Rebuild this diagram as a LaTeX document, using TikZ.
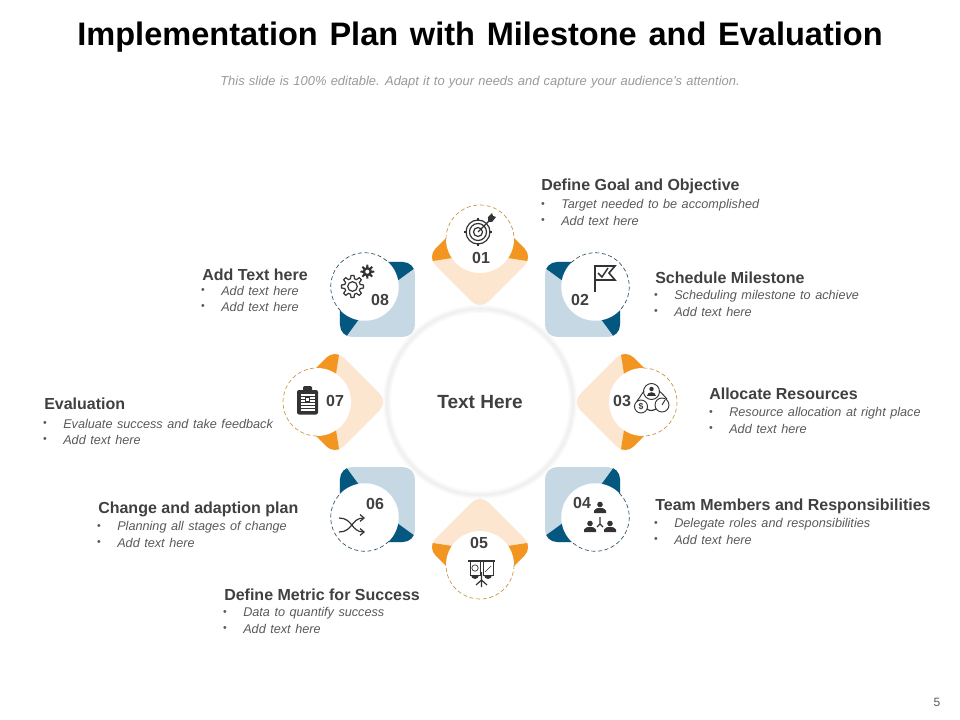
\documentclass[tikz,border=0pt]{standalone}
\usepackage{fontspec}
\setmainfont{Liberation Sans}
\usepackage{xcolor}
\usetikzlibrary{arrows.meta}
\definecolor{warmtone}{HTML}{F39621}
\definecolor{warmtint}{HTML}{FCE6CF}
\definecolor{warmedge}{HTML}{C9923F}
\definecolor{coldtone}{HTML}{04587F}
\definecolor{coldtint}{HTML}{C6D8E4}
\definecolor{coldedge}{HTML}{2A4F66}
\definecolor{iconink}{HTML}{333333}
\definecolor{headink}{HTML}{404040}
\definecolor{rowink}{HTML}{595959}
\tikzset{
    petal/.style={insert path={(0,-53) -- (53,0) -- (0,53) -- (-53,0) -- cycle}},
    headtext/.style={anchor=west, inner sep=0pt, yshift=-0.9pt, text=headink, font=\bfseries\fontsize{12}{14}\selectfont},
    rowtext/.style={anchor=west, inner sep=0pt, yshift=-0.9pt, text=rowink, font=\itshape\fontsize{9.5}{11}\selectfont\spaceskip 3.4pt\relax},
    dottext/.style={inner sep=0pt, yshift=-0.9pt, text=rowink, font=\fontsize{8}{9}\selectfont},
    numtext/.style={inner sep=0pt, text=headink, font=\bfseries\fontsize{12}{14}\selectfont},
    iconline/.style={draw=iconink, line width=0.9pt},
}
\newcommand{\iconperson}[2]{
    \begin{scope}[shift={(#1,#2)}]
        \fill[iconink] (0,-3.5) circle[radius=2.8];
        \fill[iconink] (-6,5) -- (-6,2.5) .. controls (-5,0) and (-2,0) .. (0,0) .. controls (2,0) and (5,0) .. (6,2.5) -- (6,5) -- cycle;
    \end{scope}
}

\begin{document}
\begin{tikzpicture}[x=0.75pt, y=-0.75pt]

\useasboundingbox (0,0) rectangle (960,720);

\node[inner sep=0pt, font=\bfseries\fontsize{24.4}{28}\selectfont\spaceskip 8.8pt\relax] (title) at (480,37.5) {Implementation Plan with Milestone and Evaluation};
\node[inner sep=0pt, text=black!40, font=\itshape\fontsize{9.7}{11}\selectfont\spaceskip 3.2pt\relax] (subtitle) at (480,82) {This slide is 100\% editable. Adapt it to your needs and capture your audience's attention.};
\node[inner sep=0pt, text=rowink, font=\fontsize{9}{11}\selectfont] (pagenum) at (937,702) {5};

% centre ring
\foreach \r/\shade in {97/2, 95.5/4, 94/6, 92/4, 90.5/2, 89/0} {
    \fill[black!\shade] (480,402) circle[radius=\r];
}
\node[inner sep=0pt, text=headink, font=\bfseries\fontsize{14.3}{16}\selectfont] (hub) at (480,402) {Text Here};

% petals
\foreach \i in {1,...,8} {
    \ifodd\i
        \colorlet{unittone}{warmtone}\colorlet{unittint}{warmtint}\colorlet{unitedge}{warmedge}
    \else
        \colorlet{unittone}{coldtone}\colorlet{unittint}{coldtint}\colorlet{unitedge}{coldedge}
    \fi
    \begin{scope}[shift={(480,402)}, rotate={-45*(\i-1)}, shift={(0,-145)}]
        \fill[unittint, rounded corners=9pt, petal];
        \begin{scope}
            \clip (-60,-60) -- (60,-60) -- (60,6) -- (28,1) -- (-28,1) -- (-60,6) -- cycle;
            \fill[unittone, rounded corners=9pt, petal];
        \end{scope}
        \fill[white] (0,-18) circle[radius=34];
        \draw[unitedge, line width=0.5pt, densely dashed] (-34,-18) arc[start angle=180, end angle=360, radius=34];
    \end{scope}
}

% numbers
\def\numbers{481/258, 580/300, 622/401, 582/503, 479/543, 375/504, 335/401, 380/300}
\foreach [count=\i] \nx/\ny in \numbers {
    \node[numtext] (num\i) at (\nx,\ny) {0\i};
}

% headings
\def\heads{541/185/Define Goal and Objective, 655/277/Schedule Milestone, 709/393/Allocate Resources, 655/505/Team Members and Responsibilities, 224/594/Define Metric for Success, 98/508/Change and adaption plan, 44/403/Evaluation, 202/274/Add Text here}
\foreach [count=\i] \hx/\hy/\htext in \heads {
    \node[headtext] (head\i) at (\hx,\hy) {\htext};
}

% bullet rows
\def\rows{561/204/Target needed to be accomplished, 561/220/Add text here, 674/295/Scheduling milestone to achieve, 674/311/Add text here, 729/412/Resource allocation at right place, 729/428/Add text here, 674/523/Delegate roles and responsibilities, 674/539/Add text here, 243/612/Data to quantify success, 243/628/Add text here, 117/526/Planning all stages of change, 117/542/Add text here, 63/423/Evaluate success and take feedback, 63/439/Add text here, 221/290/Add text here, 221/306/Add text here}
\foreach [count=\i] \rx/\ry/\rtext in \rows {
    \node[dottext] (dot\i) at (\rx-18,\ry) {•};
    \node[rowtext] (row\i) at (\rx,\ry) {\rtext};
}

% 01 target
\foreach \r in {12,8.5,4.5} {
    \draw[iconline] (478,232) circle[radius=\r];
}
\draw[iconline] (478,232) -- (490,220);
\fill[iconink] (488,222) -- (488,217) -- (492,213) -- (493,216) -- (496,217) -- (492,222) -- cycle;
\draw[iconline] (478,218) -- (478,221) (478,243) -- (478,246) (464,232) -- (467,232) (489,232) -- (492,232);

% 02 flag
\draw[iconline, line width=1.2pt] (595,292) -- (595,266) -- (615,266) -- (609,273) -- (615,280) -- (595,280);
\draw[iconline, line width=1.1pt] (598,273) -- (602,277) -- (608,268);

% 03 resources
\draw[iconline, line width=0.7pt] (651.5,391.5) circle[radius=8];
\draw[iconline, line width=0.7pt] (641,406.5) circle[radius=6.5];
\draw[iconline, line width=0.7pt] (662,405) circle[radius=7];
\draw[iconline, line width=0.7pt] (644,391) .. controls (640,396) and (640,398) .. (637,401);
\draw[iconline, line width=0.7pt] (659,391) .. controls (663,394) and (664,396) .. (667,399);
\draw[iconline] (647,409) .. controls (650,411) and (652,411) .. (656,409);
\draw[iconline, line width=0.7pt] (662,405) -- (665,400);
\fill[iconink] (651.5,389) circle[radius=2.2];
\fill[iconink] (647,395.5) .. controls (647,391) and (656,391) .. (656,395.5) -- cycle;
\node[inner sep=0pt, text=iconink, font=\bfseries\fontsize{6.5}{7}\selectfont] (dollar) at (641,406.5) {\$};

% 04 team
\iconperson{600}{508}
\iconperson{590}{527}
\iconperson{610}{527}
\draw[iconline] (600,524) -- (600,517) (600,524) -- (597,527) (600,524) -- (603,527);

% 05 metric board
\draw[iconline, line width=1.3pt] (468,561) -- (495,561);
\draw[iconline, line width=0.5pt] (470,561) rectangle (480,575) (483,561) rectangle (493,575);
\draw[iconline, line width=0.5pt] (475,568) circle[radius=3.2];
\draw[iconline, line width=0.5pt] (485,572) -- (488,569) -- (491,566);
\fill[iconink] (471,575) arc[start angle=180, end angle=0, radius=4] -- cycle;
\fill[iconink] (484,575) arc[start angle=180, end angle=0, radius=4] -- cycle;
\draw[iconline] (481.5,572) -- (481.5,587) (481.5,580) -- (476,585) (481.5,580) -- (487,585);

% 06 shuffle
\draw[iconline, -{Straight Barb[length=3pt, width=5pt]}] (339,518) .. controls (353,518) and (351,532) .. (365,532);
\draw[iconline, -{Straight Barb[length=3pt, width=5pt]}] (339,532) .. controls (353,532) and (351,518) .. (365,518);

% 07 clipboard
\fill[iconink, rounded corners=1.5pt] (297,390) rectangle (318,414.5);
\fill[iconink, rounded corners=1pt] (303,386) rectangle (312,392);
\foreach \ly in {395,398,401,404,407,410} {
    \draw[white, line width=0.9pt] (300.5,\ly) -- (314.5,\ly);
}
\fill[iconink] (305,396.5) rectangle (310,402.5);
\fill[white] (306.2,398) rectangle (308.8,401);

% 08 gears
\begin{scope}[shift={(352.5,286.5)}]
    \draw[iconline] plot[smooth cycle, samples=48, domain=0:352.5] (\x:{9.5+1.6*sign(cos(8*\x))});
    \draw[iconline] (0,0) circle[radius=4.8];
\end{scope}
\begin{scope}[shift={(367.3,271.7)}]
    \fill[iconink] plot[smooth cycle, samples=48, domain=0:352.5] (\x:{5.7+1.3*sign(cos(8*\x))});
    \fill[white] (0,0) circle[radius=2];
\end{scope}

\end{tikzpicture}
\end{document}
